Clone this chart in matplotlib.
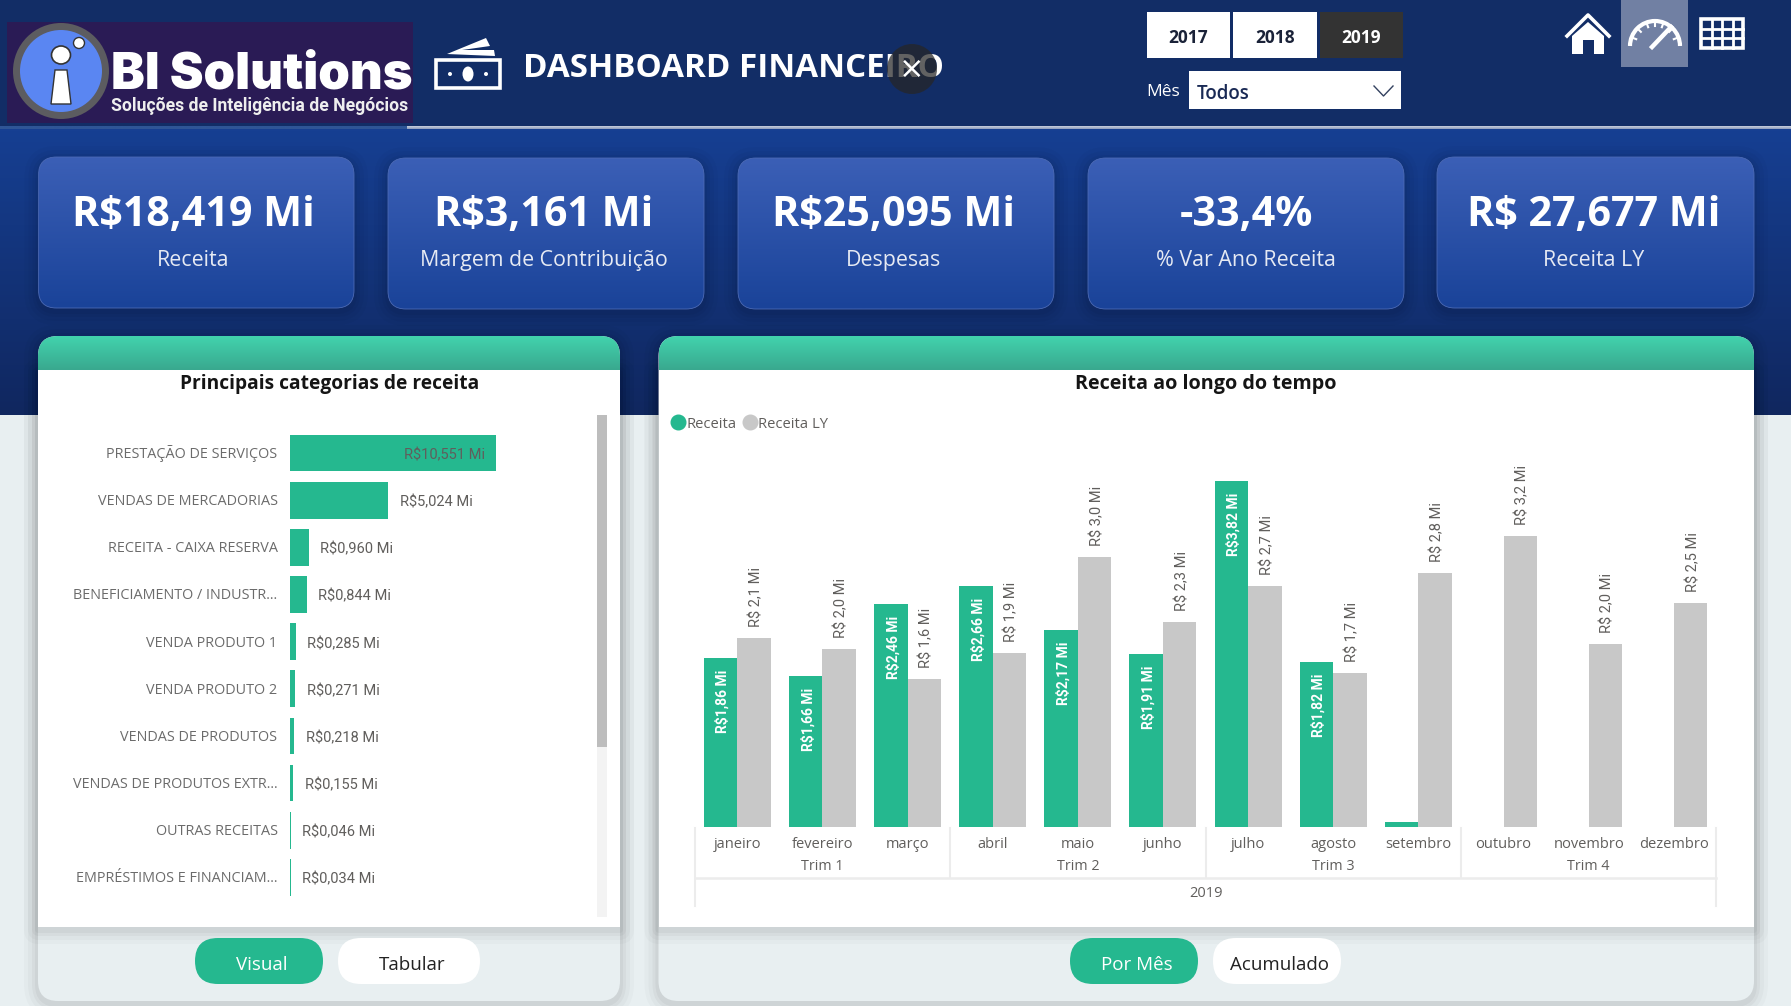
import numpy as np
import matplotlib
matplotlib.use('Agg')
import matplotlib.pyplot as plt
from matplotlib.colors import LinearSegmentedColormap
from matplotlib.lines import Line2D
from matplotlib.patches import Arc, Circle, Ellipse, FancyBboxPatch, Polygon, Rectangle
from matplotlib.transforms import ScaledTranslation, blended_transform_factory

# Data
categories = ['PRESTAÇÃO DE SERVIÇOS', 'VENDAS DE MERCADORIAS', 'RECEITA - CAIXA RESERVA',
              'BENEFICIAMENTO / INDUSTR...', 'VENDA PRODUTO 1', 'VENDA PRODUTO 2',
              'VENDAS DE PRODUTOS', 'VENDAS DE PRODUTOS EXTR...', 'OUTRAS RECEITAS',
              'EMPRÉSTIMOS E FINANCIAM...']
category_values = [10.551, 5.024, 0.960, 0.844, 0.285, 0.271, 0.218, 0.155, 0.046, 0.034]

months = ['janeiro', 'fevereiro', 'março', 'abril', 'maio', 'junho', 'julho', 'agosto',
          'setembro', 'outubro', 'novembro', 'dezembro']
receita = [1.86, 1.66, 2.46, 2.66, 2.17, 1.91, 3.82, 1.82, 0.05, 0, 0, 0]
receita_ly = [2.08, 1.96, 1.63, 1.92, 2.98, 2.26, 2.66, 1.70, 2.80, 3.21, 2.02, 2.47]
quarters = ['Trim 1', 'Trim 2', 'Trim 3', 'Trim 4']

kpi_values = ['R$18,419 Mi', 'R$3,161 Mi', 'R$25,095 Mi', '-33,4%', 'R$ 27,677 Mi']
kpi_names = ['Receita', 'Margem de Contribuição', 'Despesas', '% Var Ano Receita', 'Receita LY']
years = ['2017', '2018', '2019']

W, H = 1791, 1006
GREEN = '#25b88f'
GREY = '#c8c8c8'
TXT = '#605e5c'
plt.rcParams['font.family'] = ['Open Sans', 'DejaVu Sans']

fig = plt.figure(figsize=(W / 100, H / 100), dpi=100)
bg = fig.add_axes([0, 0, 1, 1], zorder=0)
bg.set_xlim(0, W)
bg.set_ylim(H, 0)
bg.set_autoscale_on(False)
bg.axis('off')


def px_axes(x0, y0, x1, y1):
    ax = fig.add_axes([x0 / W, 1 - y1 / H, (x1 - x0) / W, (y1 - y0) / H], zorder=2)
    ax.patch.set_alpha(0)
    for s in ax.spines.values():
        s.set_visible(False)
    return ax


def rbox(x0, y0, x1, y1, r, **kw):
    p = FancyBboxPatch((x0 + r, y0 + r), x1 - x0 - 2 * r, y1 - y0 - 2 * r,
                       boxstyle=f'round,pad={r},rounding_size={r}', linewidth=kw.pop('lw', 0), **kw)
    bg.add_patch(p)
    return p


def grad(x0, y0, x1, y1, top, bottom, clip=None, z=1):
    cmap = LinearSegmentedColormap.from_list('g', [top, bottom])
    im = bg.imshow(np.linspace(0, 1, 64).reshape(-1, 1), cmap=cmap, extent=(x0, x1, y1, y0),
                   aspect='auto', zorder=z, interpolation='bilinear')
    if clip is not None:
        im.set_clip_path(clip)
    return im


def shadow(x0, y0, x1, y1, r, z, color='#000000'):
    for d, a in [(14, 0.02), (10, 0.025), (6, 0.03), (3, 0.035)]:
        rbox(x0 - d, y0 - d + 3, x1 + d, y1 + d + 3, r + d, fc=color, alpha=a, zorder=z)


# page background
bg.add_patch(Rectangle((0, 0), W, H, fc='#e8eff1', zorder=0))
grad(0, 128, W, 415, '#163f92', '#10275f')
bg.add_patch(Rectangle((0, 0), W, 126, fc='#122d66', zorder=1.1))
grad(0, 125.5, 410, 128.5, '#2f5596', '#2f5596', z=1.2)
grad(407, 125.5, W, 128.5, '#c9d0de', '#8c9bbd', z=1.2)

# logo
bg.add_patch(Rectangle((7, 22), 406, 101, fc='#2a1b55', zorder=2))
bg.add_patch(Circle((61, 71), 48, fc='#5c5c60', zorder=3))
bg.add_patch(Circle((61, 71), 41, fc='#5a86f2', zorder=3.1))
bg.add_patch(Ellipse((61, 55), 19, 18, fc='white', ec='#333333', lw=1.2, zorder=3.2))
bg.add_patch(Circle((79, 43), 5.5, fc='white', ec='#333333', lw=1, zorder=3.2))
bg.add_patch(Polygon([(55, 70), (67, 70), (71, 104), (51, 104)], fc='white', ec='#333333', lw=1, zorder=3.2))
bg.text(111, 88.5, 'BI Solutions', color='white', fontsize=36.5, fontweight='black', family=['Inter', 'DejaVu Sans'],
        va='baseline', ha='left', zorder=4)
bg.text(111, 110.5, 'Soluções de Inteligência de Negócios', color='#eeeeee', fontsize=12.7, fontweight='bold',
        family=['Roboto', 'DejaVu Sans'], va='baseline', ha='left', zorder=4)

# money icon and title
bg.add_patch(Rectangle((436, 60), 64, 28, fc='none', ec='white', lw=2.6, zorder=3))
bg.add_patch(Ellipse((468, 74), 11, 15, fc='white', zorder=3))
bg.add_patch(Circle((450, 74), 2, fc='white', zorder=3))
bg.add_patch(Circle((486, 74), 2, fc='white', zorder=3))
bg.add_patch(Polygon([(447, 54), (486, 38), (490, 46), (462, 50), (494, 50), (495, 56)], fc='white', zorder=3))
bg.text(523, 76.5, 'DASHBOARD FINANCEIRO', color='white', fontsize=23.9, fontweight='bold', va='baseline', ha='left', zorder=3)
bg.add_patch(Circle((912, 69), 25, fc='#262626', alpha=0.72, zorder=4))
bg.text(912, 69, '×', color='white', fontsize=22, va='center', ha='center', zorder=5,
        family=['DejaVu Sans'])

# year slicer
for year, (x0, x1), fc, tc in zip(years, [(1147, 1230), (1233, 1317), (1320, 1403)],
                                  ['white', 'white', '#333333'], ['#1a2238', '#1a2238', 'white']):
    bg.add_patch(Rectangle((x0, 12), x1 - x0, 46, fc=fc, zorder=3))
    bg.text((x0 + x1) / 2, 42.5, year, color=tc, fontsize=12.5, fontweight='bold', va='baseline', ha='center', zorder=4)
bg.text(1146, 96, 'Mês', color='white', fontsize=12.5, va='baseline', ha='left', zorder=4)
bg.add_patch(Rectangle((1189, 71), 212, 38, fc='white', zorder=3))
bg.text(1197, 99, 'Todos', color='#1a2a55', fontsize=13.5, fontweight='semibold', va='baseline', ha='left', zorder=4)
bg.plot([1374, 1383.5, 1393], [86, 96, 86], color='#33415f', lw=1, zorder=4)

# nav icons
bg.plot([1567, 1588, 1609], [36, 15, 36], color='white', lw=2.6, zorder=4)
bg.add_patch(Polygon([(1572, 36), (1588, 22), (1604, 36), (1604, 54), (1572, 54)], fc='white', zorder=4))
bg.add_patch(Rectangle((1582.5, 40), 11, 14, fc='#122d66', zorder=4.1))
bg.add_patch(Rectangle((1621, 0), 67, 67, fc='#7180a3', zorder=3))
bg.add_patch(Arc((1655, 46), 50, 50, theta1=180, theta2=360, ec='white', lw=3, zorder=4))
bg.plot([1652, 1671], [47, 27], color='white', lw=3.2, zorder=4)
for ang in np.radians([200, 225, 250, 270, 290, 315, 340]):
    bg.plot([1655 + 25 * np.cos(ang), 1655 + 20 * np.cos(ang)],
            [46 + 25 * np.sin(ang), 46 + 20 * np.sin(ang)], color='white', lw=1.5, zorder=4)
bg.add_patch(Rectangle((1701, 19), 42, 29, fc='none', ec='white', lw=2.6, zorder=4))
for gx in [1711.5, 1722, 1732.5]:
    bg.plot([gx, gx], [19, 48], color='white', lw=2, zorder=4)
for gy in [28.7, 38.3]:
    bg.plot([1701, 1743], [gy, gy], color='white', lw=2, zorder=4)

# KPI cards
card_pos = [(38.5, 354, 157, 308), (388, 704, 158, 309), (738, 1054, 158, 309),
            (1088, 1404, 158, 309), (1437, 1754, 157, 308)]
card_text_x = [193.5, 544, 894, 1246, 1593.5]
for (x0, x1, y0, y1), tx, val, name in zip(card_pos, card_text_x, kpi_values, kpi_names):
    shadow(x0, y0, x1, y1, 18, 2)
    clip = rbox(x0, y0, x1, y1, 18, fc='none', zorder=3)
    grad(x0, y0, x1, y1, '#3b5fb6', '#1a4399', clip=clip, z=3)
    rbox(x0, y0, x1, y1, 18, fc='none', ec='#4c6ab5', lw=0.6, zorder=3.1)
    bg.text(tx, 226, val, color='white', fontsize=29.7, fontweight='bold', va='baseline', ha='center', zorder=4)
    bg.text(tx, 266, name, color='#e6eaf3', fontsize=15.4, va='baseline', ha='center', zorder=4)

# panels
panels = [(38, 620, 'Principais categorias de receita', 330, 13.8),
          (658.5, 1754, 'Receita ao longo do tempo', 1206, 14.2)]
for x0, x1, title, cx, fs in panels:
    shadow(x0, 336, x1, 1001, 20, 2)
    rbox(x0, 336, x1, 1001, 20, fc='#e8eff1', zorder=3)
    shadow(x0, 370, x1, 927, 1, 3)
    clip = rbox(x0, 336, x1, 400, 20, fc='none', zorder=3.2)
    grad(x0, 336, x1, 371, '#42d3ad', '#39a78e', clip=clip, z=3.2)
    bg.add_patch(Rectangle((x0, 370), x1 - x0, 557, fc='white', zorder=3.3))
    bg.text(cx, 389.5, title, color='#151515', fontsize=fs, fontweight='bold', va='baseline', ha='center', zorder=4)

# toggle buttons
for (x0, x1), label, tx, on in [((195, 323), 'Visual', 262, True), ((338, 480), 'Tabular', 412, False),
                                ((1070, 1198), 'Por Mês', 1137, True), ((1213, 1341), 'Acumulado', 1280, False)]:
    rbox(x0, 938, x1, 984, 23, fc=GREEN if on else 'white', zorder=4)
    bg.text(tx, 970, label, color='white' if on else '#222222', fontsize=13.5, va='baseline', ha='center', zorder=5)

# scrollbar on the left panel
bg.add_patch(Rectangle((596.5, 415), 10.5, 502, fc='#f3f3f3', zorder=4))
bg.add_patch(Rectangle((596.5, 415), 10.5, 332, fc='#bdbdbd', zorder=4.1))

# left chart: top categories
ax1 = px_axes(290, 415, 590, 917)
y_pos = np.arange(len(categories))
ax1.barh(y_pos, category_values, height=0.778, color=GREEN)
ax1.set_xlim(0, 300 / 19.56)
ax1.set_ylim(9.84, -0.806)
ax1.set_xticks([])
ax1.set_yticks(y_pos, categories)
ax1.tick_params(axis='y', length=0, pad=9, labelsize=10.4, labelcolor='#6b6b6b')
# baseline alignment so accented labels sit on the same line as the others
for lab in ax1.get_yticklabels():
    lab.set_verticalalignment('baseline')
    lab.set_transform(lab.get_transform() + ScaledTranslation(0, -0.05, fig.dpi_scale_trans))
for i, v in enumerate(category_values):
    label = f'R${v:.3f} Mi'.replace('.', ',')
    if i == 0:
        ax1.annotate(label, (v, i), xytext=(-8, -1.5), textcoords='offset points', ha='right', va='center',
                     color=TXT, fontsize=10.5, family=['Roboto', 'DejaVu Sans'])
    else:
        ax1.annotate(label, (v, i), xytext=(8.3, -1.5), textcoords='offset points', ha='left', va='center',
                     color=TXT, fontsize=10.5, family=['Roboto', 'DejaVu Sans'])

# right chart: revenue by month
ax2 = px_axes(694.7, 420, 1716.4, 827)
x = np.arange(len(months))
w = 33.5 / 85.14
ax2.bar(x - w / 2, receita, w, color=GREEN, label='Receita')
ax2.bar(x + w / 2, receita_ly, w, color=GREY, label='Receita LY')
ax2.set_xlim(-0.5, 11.5)
ax2.set_ylim(0, 407 / 90.7)
ax2.set_yticks([])
ax2.set_xticks(x, months)
ax2.tick_params(axis='x', length=0, pad=7, labelsize=10.5, labelcolor=TXT)

for i in x:
    if receita[i] > 0.5:
        ax2.annotate(f'R${receita[i]:.2f} Mi'.replace('.', ','), (i - w / 2, receita[i]), xytext=(1.6, -8.5),
                     textcoords='offset points', rotation=90, ha='center', va='top', color='white',
                     fontsize=10, fontweight='bold', family=['Roboto', 'DejaVu Sans'])
    ax2.annotate(f'R$ {receita_ly[i]:.1f} Mi'.replace('.', ','), (i + w / 2, receita_ly[i]), xytext=(1.6, 8),
                 textcoords='offset points', rotation=90, ha='center', va='bottom', color=TXT,
                 fontsize=10.5, family=['Roboto', 'DejaVu Sans'])

# hierarchical axis below the months
tr = blended_transform_factory(ax2.transData, bg.transData)
for q, name in enumerate(quarters):
    ax2.text(3 * q + 1, 866.5, name, transform=tr, color=TXT, fontsize=10.3, ha='center', va='center', clip_on=False)
ax2.text(5.5, 893.5, '2019', transform=tr, color=TXT, fontsize=10.5, ha='center', va='center', clip_on=False)
for b in [-0.5, 2.5, 5.5, 8.5, 11.5]:
    end = 906 if b in (-0.5, 11.5) else 878
    ax2.add_line(Line2D([b, b], [828, end], transform=tr, color='#ececec', lw=1.5, clip_on=False))
ax2.add_line(Line2D([-0.5, 11.5], [878, 878], transform=tr, color='#ececec', lw=1.8, clip_on=False))

handles = [Line2D([], [], marker='o', ls='', ms=10.5, color=GREEN), Line2D([], [], marker='o', ls='', ms=10.5, color=GREY)]
leg = fig.legend(handles, ['Receita', 'Receita LY'], loc='center left', bbox_to_anchor=(668.5 / W, 1 - 424 / H),
                 ncols=2, frameon=False, fontsize=10.6, handletextpad=-0.1, columnspacing=0.25, borderaxespad=0,
                 borderpad=0, handlelength=1.3, labelcolor=TXT)
leg.set_zorder(5)

fig.savefig('out.png', dpi=100)
